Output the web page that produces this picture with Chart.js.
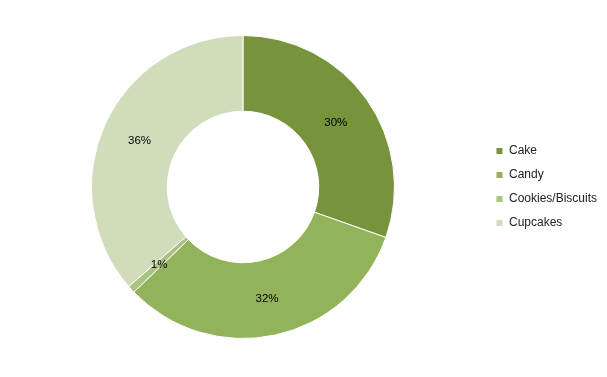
<!DOCTYPE html>
<html>
<head>
<meta charset="utf-8">
<script src="https://cdn.jsdelivr.net/npm/chart.js@4/dist/chart.umd.min.js"></script>
<style>
  body { margin: 0; background: #fff; }
  #chart { display: block; }
</style>
</head>
<body>
<canvas id="chart" width="607" height="377"></canvas>
<script>
// DATA
const categories = ["Cake", "Candy", "Cookies/Biscuits", "Cupcakes"];
const shares = [30.4, 32.4, 0.8, 36.4];
const colors = ["#77933C", "#93B35A", "#A9C382", "#D0DCBA"];

// percent labels in the middle of each ring slice
const sliceLabels = {
  id: "sliceLabels",
  afterDatasetsDraw(chart) {
    const ctx = chart.ctx;
    const meta = chart.getDatasetMeta(0);
    const total = shares.reduce((a, b) => a + b, 0);
    ctx.save();
    ctx.font = "11.5px 'Liberation Sans', Arial, sans-serif";
    ctx.fillStyle = "#000";
    ctx.textAlign = "center";
    ctx.textBaseline = "middle";
    meta.data.forEach((arc, i) => {
      const pos = arc.tooltipPosition();
      ctx.fillText(Math.round(shares[i] / total * 100) + "%", pos.x, pos.y + 1);
    });
    ctx.restore();
  }
};

new Chart(document.getElementById("chart"), {
  type: "doughnut",
  data: {
    labels: categories,
    datasets: [{
      data: shares,
      backgroundColor: colors,
      borderColor: "#fff",
      borderWidth: 1
    }]
  },
  options: {
    responsive: false,
    animation: false,
    cutout: "50%",
    layout: { padding: { top: 35, bottom: 38, left: 2, right: 0 } },
    plugins: {
      tooltip: { enabled: false },
      legend: {
        position: "right",
        labels: {
          boxWidth: 7,
          boxHeight: 7,
          padding: 12,
          color: "#222",
          font: { family: "'Liberation Sans', Arial, sans-serif", size: 12 }
        }
      }
    }
  },
  plugins: [sliceLabels]
});
</script>
</body>
</html>
